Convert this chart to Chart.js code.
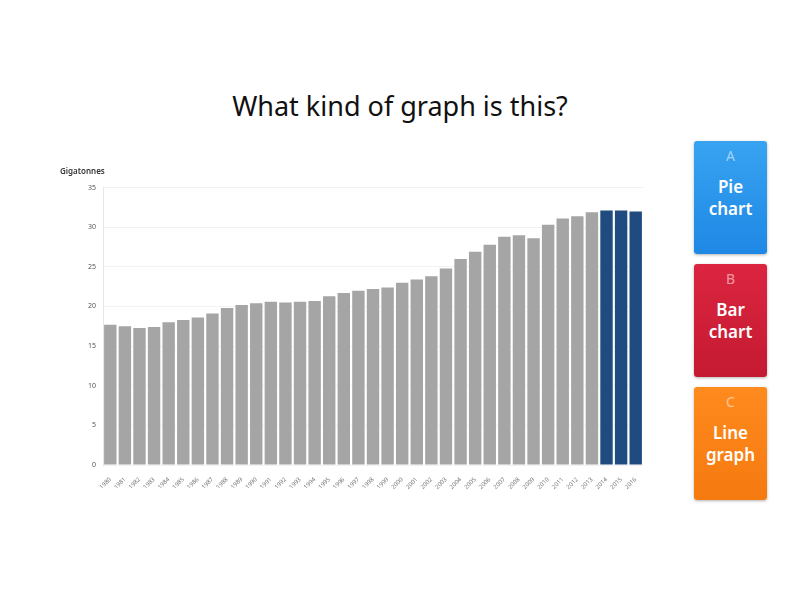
<!DOCTYPE html>
<html>
<head>
<meta charset="utf-8">
<script src="https://cdn.jsdelivr.net/npm/chart.js@4.4.0/dist/chart.umd.min.js"></script>
<style>
  body { margin: 0; width: 800px; height: 600px; background: #fff; font-family: "Noto Sans", sans-serif; position: relative; overflow: hidden; }
  #question { position: absolute; left: 0; width: 800px; top: 87px; text-align: center; font-size: 27px; color: #111; }
  #wrap { position: absolute; left: 50px; top: 160px; width: 610px; height: 340px; }
  .opt { position: absolute; left: 694px; width: 73px; height: 113px; border-radius: 3px; color: #fff; text-align: center; box-shadow: 0 1px 3px rgba(0,0,0,0.3); }
  .opt .letter { position: absolute; top: 5px; left: 0; right: 0; font-size: 14px; color: rgba(255,255,255,0.55); }
  .opt .txt { position: absolute; top: 35px; left: 0; right: 0; font-size: 17px; line-height: 22px; font-weight: 600; }
  #a { top: 141px; background: linear-gradient(#38a3f1, #1e88e5); }
  #b { top: 264px; background: linear-gradient(#dc2540, #c41a31); }
  #c { top: 387px; background: linear-gradient(#ff8a1e, #f57a10); }
</style>
</head>
<body>
<div id="question">What kind of graph is this?</div>
<div id="wrap"><canvas id="myChart"></canvas></div>
<div class="opt" id="a"><div class="letter">A</div><div class="txt">Pie<br>chart</div></div>
<div class="opt" id="b"><div class="letter">B</div><div class="txt">Bar<br>chart</div></div>
<div class="opt" id="c"><div class="letter">C</div><div class="txt">Line<br>graph</div></div>
<script>
// CO2 emissions, gigatonnes
const lista_anos = ['1980','1981','1982','1983','1984','1985','1986','1987','1988','1989',
    '1990','1991','1992','1993','1994','1995','1996','1997','1998','1999',
    '2000','2001','2002','2003','2004','2005','2006','2007','2008','2009',
    '2010','2011','2012','2013','2014','2015','2016'];
const lista_valores = [17.7, 17.5, 17.3, 17.4, 18.0, 18.3, 18.6, 19.1, 19.8, 20.2,
    20.4, 20.6, 20.5, 20.6, 20.7, 21.3, 21.7, 22.0, 22.2, 22.4,
    23.0, 23.4, 23.8, 24.8, 26.0, 26.9, 27.8, 28.8, 29.0, 28.6,
    30.3, 31.1, 31.4, 31.9, 32.1, 32.1, 32.0];
const anos_destaque = ['2014', '2015', '2016'];

const cores = lista_anos.map(a => anos_destaque.includes(a) ? '#1f4b80' : '#a5a5a5');

const ctx = document.getElementById('myChart').getContext('2d');
const myChart = new Chart(ctx, {
    type: 'bar',
    data: {
        labels: lista_anos,
        datasets: [{
            label: 'Gigatonnes',
            data: lista_valores,
            backgroundColor: cores,
            borderWidth: 0,
            barPercentage: 0.85,
            categoryPercentage: 1.0
        }]
    },
    options: {
        responsive: true,
        maintainAspectRatio: false,
        animation: false,
        layout: { padding: { left: 10, right: 17, top: 0, bottom: 0 } },
        plugins: {
            legend: { display: false },
            tooltip: { enabled: false },
            title: {
                display: true,
                text: 'Gigatonnes',
                align: 'start',
                color: '#333',
                font: { family: 'Noto Sans', size: 8, weight: '600' },
                padding: { top: 7, bottom: 11 }
            }
        },
        scales: {
            y: {
                min: 0,
                max: 35,
                ticks: { stepSize: 5, color: '#555', font: { family: 'Noto Sans', size: 7 }, padding: 7 },
                grid: { color: '#f2f2f2', drawTicks: false },
                border: { color: '#e6e6e6' },
                afterFit: s => { s.width = 43; }
            },
            x: {
                grid: { display: false },
                border: { display: false },
                ticks: { color: '#777', font: { family: 'Noto Sans', size: 6 }, minRotation: 45, maxRotation: 45, autoSkip: false, padding: 3 },
                afterFit: s => { s.height = 35; }
            }
        }
    }
});
</script>
</body>
</html>
